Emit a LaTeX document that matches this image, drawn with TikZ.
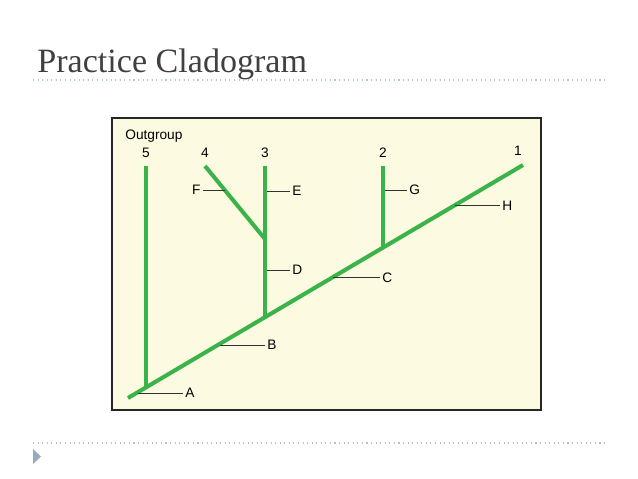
\documentclass[tikz,border=0pt]{standalone}
\usepackage{fontspec}
\setmainfont{Liberation Serif}
\setsansfont{Liberation Sans}
\usepackage{tikz}
\definecolor{clade}{RGB}{58,180,74}
\definecolor{paper}{RGB}{252,250,224}
\definecolor{rulecol}{RGB}{170,200,225}
\definecolor{titlecol}{RGB}{64,64,64}

\begin{document}
\begin{tikzpicture}[x=0.02cm,y=-0.02cm]
      \useasboundingbox [fill=white] (0,0) rectangle (638,478);
      \node (title) at (37,72) [anchor=base west, inner sep=0, text=titlecol, font=\fontsize{19.4}{22}\selectfont] {Practice Cladogram};
      \draw [rulecol, dotted, line width=0.6pt] (33,80) -- (605,80);
      \draw [gray!50, dotted, line width=0.6pt] (33,443) -- (605,443);
      \fill [rulecol!60!gray] (33,449) -- (41,456.5) -- (33,464) -- cycle;
      \draw [paper, fill=paper] (112,118) rectangle (541,410);
      \draw [black!85, line width=1pt] (112,118) rectangle (541,410);
      \tikzstyle {branch} = [draw=clade, line width=2.3pt];
      \tikzstyle {tick} = [draw=black!80, line width=0.5pt];
      \tikzstyle {taxon} = [font=\sffamily\fontsize{7.8}{9}\selectfont, inner sep=0];
      \tikzstyle {trait} = [font=\sffamily\fontsize{7.8}{9}\selectfont, inner sep=1.2pt];
      \node (out) at (125,136) [taxon, anchor=west] {Outgroup};
      \node (t5) at (146,153) [taxon] {5};
      \node (t4) at (205,153) [taxon] {4};
      \node (t3) at (265,153) [taxon] {3};
      \node (t2) at (383,153) [taxon] {2};
      \node (t1) at (518,151) [taxon] {1};
      \coordinate (root) at (128,398);
      \coordinate (e1) at (523,165);
      \coordinate (e5) at (146,166);
      \coordinate (e4) at (205,166);
      \coordinate (e3) at (265,166);
      \coordinate (e2) at (383,166);
      \coordinate (j5) at (146,387.4);
      \coordinate (j3) at (265,317);
      \coordinate (j4) at (265,239);
      \coordinate (j2) at (383,247.5);
      \draw [branch] (root) -- (e1);
      \draw [branch] (e5) -- (j5);
      \draw [branch] (e3) -- (j3);
      \draw [branch] (e4) -- (j4);
      \draw [branch] (e2) -- (j2);
      \coordinate (pa) at (138,393);
      \coordinate (pb) at (220,345);
      \coordinate (pc) at (333,277.5);
      \coordinate (pd) at (267,270);
      \coordinate (pe) at (267,191);
      \coordinate (pf) at (225,190);
      \coordinate (pg) at (385,190);
      \coordinate (ph) at (455,205.5);
      \node (a) [trait, anchor=west] at (183,393) {A};
      \node (b) [trait, anchor=west] at (265,345) {B};
      \node (c) [trait, anchor=west] at (380,278) {C};
      \node (d) [trait, anchor=west] at (290,270) {D};
      \node (e) [trait, anchor=west] at (290,191) {E};
      \node (f) [trait, anchor=east] at (203,190) {F};
      \node (g) [trait, anchor=west] at (407,190) {G};
      \node (h) [trait, anchor=west] at (500,206) {H};
      \draw [tick] (pa) -- (pa -| a.west);
      \draw [tick] (pb) -- (pb -| b.west);
      \draw [tick] (pc) -- (pc -| c.west);
      \draw [tick] (pd) -- (pd -| d.west);
      \draw [tick] (pe) -- (pe -| e.west);
      \draw [tick] (pf) -- (pf -| f.east);
      \draw [tick] (pg) -- (pg -| g.west);
      \draw [tick] (ph) -- (ph -| h.west);
\end{tikzpicture}
\end{document}
